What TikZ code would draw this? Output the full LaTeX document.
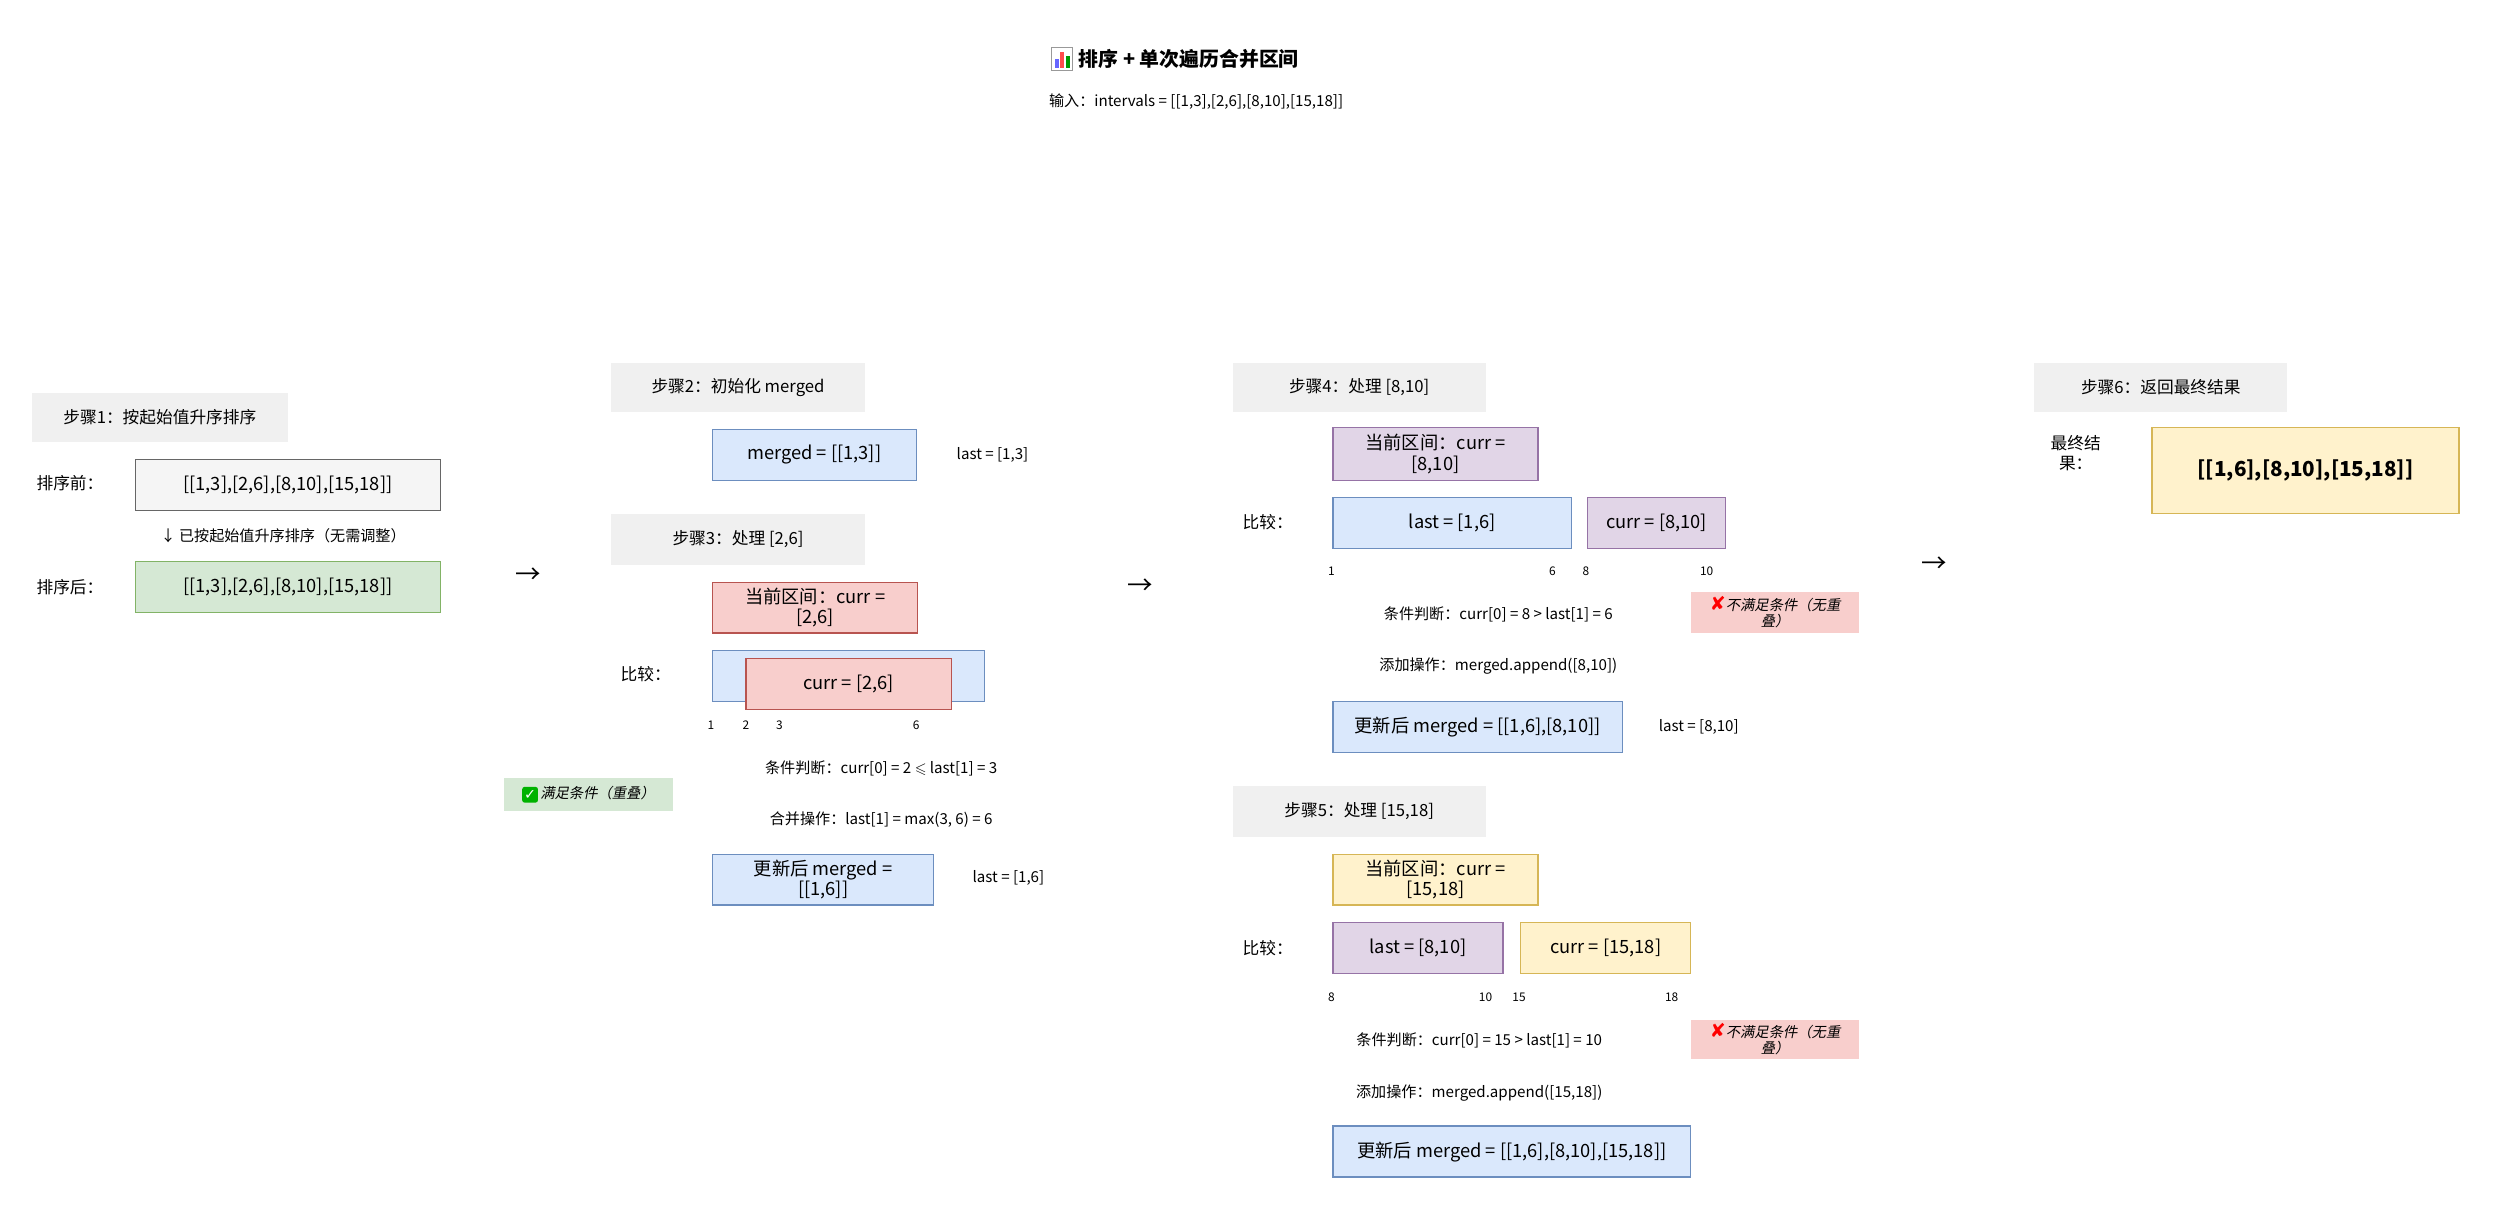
\documentclass[tikz,border=0pt]{standalone}
\usepackage{fontspec}
\setmainfont{Noto Sans CJK SC}
\newfontfamily\dv{DejaVu Sans}
\newfontfamily\slcjk{Noto Sans CJK SC}[FakeSlant=0.2]
\usepackage{amssymb}
\newcommand{\okmark}{\tikz[baseline=-0.5ex,x=1cm,y=1cm]{\fill[green!70!black,rounded corners=1.5pt] (0,-0.55em) rectangle (1.1em,0.55em);\node[text=white,font=\dv\bfseries\fontsize{9}{9}\selectfont,inner sep=0,minimum width=0pt,minimum height=0pt,fill=none] at (0.55em,0) {✓};}\,}
\begin{document}
\begin{tikzpicture}[x=1pt,y=-1pt,
  hdr/.style={fill=black!6,draw=none,font=\fontsize{10.5}{12}\selectfont,inner sep=0},
  bx/.style={draw,line width=0.8pt,font=\fontsize{11.5}{13}\selectfont,align=center,inner sep=0},
  bxb/.style={bx,fill={rgb,255:red,218;green,232;blue,252},draw={rgb,255:red,108;green,142;blue,191}},
  bxr/.style={bx,fill={rgb,255:red,248;green,206;blue,204},draw={rgb,255:red,184;green,84;blue,80}},
  bxp/.style={bx,fill={rgb,255:red,225;green,213;blue,231},draw={rgb,255:red,150;green,115;blue,166}},
  bxy/.style={bx,fill={rgb,255:red,255;green,242;blue,204},draw={rgb,255:red,214;green,182;blue,86}},
  bxg/.style={bx,fill={rgb,255:red,213;green,232;blue,212},draw={rgb,255:red,130;green,179;blue,102}},
  bxgr/.style={bx,fill={rgb,255:red,245;green,245;blue,245},draw={rgb,255:red,102;green,102;blue,102}},
  lbl/.style={font=\fontsize{10.5}{12.5}\selectfont,align=center,inner sep=0},
  sm/.style={font=\fontsize{9.5}{11}\selectfont,inner sep=0},
  num/.style={font=\fontsize{7.5}{8}\selectfont,inner sep=0},
  arr/.style={font=\fontsize{16}{16}\selectfont,inner sep=0},
  okb/.style={fill={rgb,255:red,213;green,232;blue,212},font=\fontsize{9}{10}\selectfont,inner sep=0,align=center},
  nob/.style={fill={rgb,255:red,248;green,206;blue,204},font=\fontsize{9}{10}\selectfont,inner sep=0,align=center}]
\useasboundingbox (0,0) rectangle (1568,762);
% title
\node[font=\bfseries\fontsize{12.5}{14}\selectfont,inner sep=0,anchor=west] (title) at (678,37) {排序 + 单次遍历合并区间};
\draw[fill=white,draw=black!40,line width=0.4pt] (661,30) rectangle (674,44);
\fill[blue!60] (663,37) rectangle (665.5,43);
\fill[red!70] (666.5,33) rectangle (669,43);
\fill[green!60!black] (670,35) rectangle (672.5,43);
\node[sm] (sub) at (752,64) {输入：intervals = [[1,3],[2,6],[8,10],[15,18]]};
% step1
\node[hdr,minimum width=161pt,minimum height=31pt] (h1) at (100.5,262.5) {步骤1：按起始值升序排序};
\node[lbl] (pre) at (44,304) {排序前：};
\node[bxgr,minimum width=192pt,minimum height=32pt] (b1) at (181,305) {[[1,3],[2,6],[8,10],[15,18]]};
\node[sm] (d1) at (178,337) {↓ 已按起始值升序排序（无需调整）};
\node[lbl] (post) at (44,369) {排序后：};
\node[bxg,minimum width=192pt,minimum height=32pt] (b2) at (181,369) {[[1,3],[2,6],[8,10],[15,18]]};
\node[arr] (a1) at (332,362) {→};
\node[arr] (a2) at (717,369) {→};
\node[arr] (a3) at (1216,355) {→};
% step2
\node[hdr,minimum width=160pt,minimum height=31pt] (h2) at (464,243.5) {步骤2：初始化 merged};
\node[bxb,minimum width=128pt,minimum height=32pt] (m2) at (512,286) {merged = [[1,3]]};
\node[sm] (l2) at (624,286) {last = [1,3]};
% step3
\node[hdr,minimum width=160pt,minimum height=32pt] (h3) at (464,339) {步骤3：处理 [2,6]};
\node[bxr,minimum width=129pt,minimum height=32pt] (c3) at (512.5,382) {当前区间：curr =\\{}[2,6]};
\node[lbl] (k3) at (406,424) {比较：};
\node[bxb,minimum width=171pt,minimum height=32pt] (la3) at (533.5,425) {};
\node[bxr,minimum width=129pt,minimum height=32pt] (cu3) at (533.5,430) {curr = [2,6]};
\node[num] (n31) at (447,456) {1};
\node[num] (n32) at (469,456) {2};
\node[num] (n33) at (490,456) {3};
\node[num] (n36) at (576,456) {6};
\node[sm] (t3) at (554,483) {条件判断：curr[0] = 2 $\leqslant$ last[1] = 3};
\node[okb,minimum width=106pt,minimum height=21pt] (ok3) at (370,499.5) {\okmark{\slcjk 满足条件（重叠）}};
\node[sm] (o3) at (554,515) {合并操作：last[1] = max(3, 6) = 6};
\node[bxb,minimum width=139pt,minimum height=32pt] (m3) at (517.5,553) {更新后 merged =\\{}[[1,6]]};
\node[sm] (l3) at (634,552) {last = [1,6]};
% step4
\node[hdr,minimum width=159pt,minimum height=31pt] (h4) at (854.5,243.5) {步骤4：处理 [8,10]};
\node[bxp,minimum width=129pt,minimum height=33pt] (c4) at (902.5,285.5) {当前区间：curr =\\{}[8,10]};
\node[lbl] (k4) at (797,328) {比较：};
\node[bxb,minimum width=150pt,minimum height=32pt] (la4) at (913,329) {last = [1,6]};
\node[bxp,minimum width=87pt,minimum height=32pt] (cu4) at (1041.5,329) {curr = [8,10]};
\node[num] (n41) at (837,359) {1};
\node[num] (n46) at (976,359) {6};
\node[num] (n48) at (997,359) {8};
\node[num] (n410) at (1073,359) {10};
\node[sm] (t4) at (942,386) {条件判断：curr[0] = 8 > last[1] = 6};
\node[nob,minimum width=106pt,minimum height=26pt] (no4) at (1116,385) {{\dv\bfseries\fontsize{12}{10}\selectfont\color{red}✘}{\slcjk 不满足条件（无重}\\{\slcjk 叠）}};
\node[sm] (o4) at (942,419) {添加操作：merged.append([8,10])};
\node[bxb,minimum width=182pt,minimum height=32pt] (m4) at (929,457) {更新后 merged = [[1,6],[8,10]]};
\node[sm] (l4) at (1068,457) {last = [8,10]};
% step5
\node[hdr,minimum width=159pt,minimum height=32pt] (h5) at (854.5,510) {步骤5：处理 [15,18]};
\node[bxy,minimum width=129pt,minimum height=32pt] (c5) at (902.5,553) {当前区间：curr =\\{}[15,18]};
\node[lbl] (k5) at (797,596) {比较：};
\node[bxp,minimum width=107pt,minimum height=32pt] (la5) at (891.5,596) {last = [8,10]};
\node[bxy,minimum width=107pt,minimum height=32pt] (cu5) at (1009.5,596) {curr = [15,18]};
\node[num] (n58) at (837,627) {8};
\node[num] (n510) at (934,627) {10};
\node[num] (n515) at (955,627) {15};
\node[num] (n518) at (1051,627) {18};
\node[sm] (t5) at (930,654) {条件判断：curr[0] = 15 > last[1] = 10};
\node[nob,minimum width=106pt,minimum height=25pt] (no5) at (1116,653.5) {{\dv\bfseries\fontsize{12}{10}\selectfont\color{red}✘}{\slcjk 不满足条件（无重}\\{\slcjk 叠）}};
\node[sm] (o5) at (930,687) {添加操作：merged.append([15,18])};
\node[bxb,minimum width=225pt,minimum height=32pt] (m5) at (950.5,724) {更新后 merged = [[1,6],[8,10],[15,18]]};
% step6
\node[hdr,minimum width=159pt,minimum height=31pt] (h6) at (1358.5,243.5) {步骤6：返回最终结果};
\node[lbl] (f6) at (1305,285) {最终结\\果：};
\node[bxy,minimum width=193pt,minimum height=54pt,font=\bfseries\fontsize{13}{15}\selectfont] (r6) at (1449.5,296) {[[1,6],[8,10],[15,18]]};
\end{tikzpicture}
\end{document}
